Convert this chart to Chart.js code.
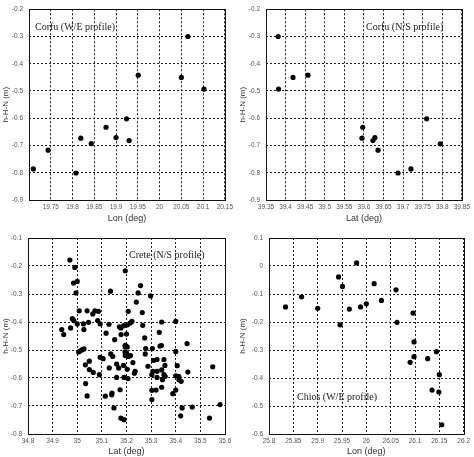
<!DOCTYPE html>
<html><head><meta charset="utf-8">
<script src="https://cdn.jsdelivr.net/npm/chart.js@4"></script>
<style>
html,body{margin:0;padding:0;background:#fff}
body{width:474px;height:457px;position:relative;overflow:hidden}
canvas{position:absolute;display:block}
</style></head><body>
<canvas id="c1" width="237" height="228" style="left:0;top:0"></canvas>
<canvas id="c2" width="237" height="228" style="left:237px;top:0"></canvas>
<canvas id="c3" width="237" height="229" style="left:0;top:228px"></canvas>
<canvas id="c4" width="237" height="229" style="left:237px;top:228px"></canvas>
<script>
// ---------- DATA ----------
const corfuLon  = [19.710,19.744,19.808,19.819,19.843,19.877,19.900,19.924,19.930,19.951,20.050,20.065,20.102];
const corfuLonH = [-0.786,-0.717,-0.801,-0.673,-0.693,-0.633,-0.671,-0.602,-0.682,-0.442,-0.450,-0.300,-0.493];

const corfuLat  = [39.381,39.382,39.419,39.457,39.597,39.595,39.623,39.628,39.636,39.687,39.720,39.760,39.795];
const corfuLatH = [-0.300,-0.493,-0.450,-0.442,-0.633,-0.673,-0.682,-0.671,-0.717,-0.801,-0.786,-0.602,-0.694];

const creteLat = [34.970,34.990,35.195,34.985,35.000,34.995,35.135,35.257,35.247,35.298,
                  35.240,35.207,35.008,35.040,35.072,35.086,35.063,35.264,34.980,34.986,
                  35.025,35.000,35.046,35.083,35.093,34.973,34.937,35.027,35.171,35.177,
                  35.129,35.204,35.189,35.215,35.222,35.266,35.343,35.400,35.333,35.178,
                  35.200,34.945,35.117,35.274,35.152,35.195,35.195,35.203,35.336,35.342,
                  35.446,35.305,35.278,35.194,35.200,35.400,35.006,35.013,35.020,35.027,
                  35.136,35.144,35.195,35.203,35.208,35.216,35.093,35.105,35.276,35.352,
                  35.324,35.310,35.287,35.356,35.406,35.550,35.033,35.049,35.160,35.188,
                  35.226,35.130,35.049,35.065,35.090,35.168,35.203,35.206,35.190,35.232,
                  35.235,35.303,35.307,35.324,35.343,35.352,35.357,35.324,35.346,35.400,
                  35.412,35.413,35.449,35.422,35.160,35.034,35.343,35.400,35.388,35.303,
                  35.320,35.141,35.174,35.040,35.114,35.140,35.303,35.149,35.426,35.467,
                  35.580,35.177,35.190,35.420,35.537];
const creteH   = [-0.179,-0.205,-0.217,-0.261,-0.255,-0.296,-0.290,-0.270,-0.296,-0.307,
                  -0.329,-0.362,-0.360,-0.360,-0.360,-0.362,-0.371,-0.366,-0.388,-0.395,
                  -0.407,-0.407,-0.401,-0.395,-0.407,-0.421,-0.427,-0.427,-0.417,-0.421,
                  -0.408,-0.410,-0.413,-0.404,-0.398,-0.412,-0.400,-0.398,-0.437,-0.445,
                  -0.443,-0.445,-0.440,-0.457,-0.463,-0.483,-0.488,-0.489,-0.486,-0.484,
                  -0.477,-0.495,-0.495,-0.507,-0.510,-0.505,-0.507,-0.503,-0.499,-0.496,
                  -0.514,-0.523,-0.520,-0.519,-0.523,-0.520,-0.526,-0.531,-0.514,-0.534,
                  -0.534,-0.537,-0.558,-0.555,-0.556,-0.560,-0.553,-0.540,-0.550,-0.555,
                  -0.545,-0.564,-0.570,-0.580,-0.588,-0.564,-0.569,-0.602,-0.598,-0.583,
                  -0.576,-0.588,-0.576,-0.576,-0.571,-0.588,-0.594,-0.598,-0.606,-0.592,
                  -0.594,-0.606,-0.579,-0.612,-0.598,-0.620,-0.633,-0.643,-0.656,-0.644,
                  -0.643,-0.654,-0.642,-0.664,-0.665,-0.660,-0.677,-0.707,-0.707,-0.704,
                  -0.695,-0.743,-0.749,-0.735,-0.743];

const chiosLon = [25.834,25.867,25.900,25.943,25.946,25.951,25.965,25.980,25.988,26.000,
                  26.016,26.031,26.061,26.063,26.096,26.098,26.098,26.090,26.126,26.144,
                  26.150,26.135,26.149,26.155];
const chiosH   = [-0.146,-0.110,-0.151,-0.039,-0.210,-0.073,-0.154,0.011,-0.146,-0.135,
                  -0.063,-0.123,-0.085,-0.201,-0.168,-0.271,-0.324,-0.344,-0.331,-0.306,
                  -0.388,-0.443,-0.450,-0.567];

// ---------- TICKS ----------
const corfuLonTicks  = [19.70,19.75,19.80,19.85,19.90,19.95,20.00,20.05,20.10,20.15];
const corfuLonLabels = ['','19.75','19.8','19.85','19.9','19.95','20','20.05','20.1','20.15'];
const corfuLatTicks  = [39.35,39.40,39.45,39.50,39.55,39.60,39.65,39.70,39.75,39.80,39.85];
const corfuLatLabels = ['39.35','39.4','39.45','39.5','39.55','39.6','39.65','39.7','39.75','39.8','39.85'];
const corfuHTicks    = [-0.9,-0.8,-0.7,-0.6,-0.5,-0.4,-0.3,-0.2];
const corfuHLabels   = ['-0.9','-0.8','-0.7','-0.6','-0.5','-0.4','-0.3','-0.2'];
const creteLatTicks  = [34.8,34.9,35.0,35.1,35.2,35.3,35.4,35.5,35.6];
const creteLatLabels = ['34.8','34.9','35','35.1','35.2','35.3','35.4','35.5','35.6'];
const creteHTicks    = [-0.8,-0.7,-0.6,-0.5,-0.4,-0.3,-0.2,-0.1];
const creteHLabels   = ['-0.8','-0.7','-0.6','-0.5','-0.4','-0.3','-0.2','-0.1'];
const chiosLonTicks  = [25.80,25.85,25.90,25.95,26.00,26.05,26.10,26.15,26.20];
const chiosLonLabels = ['25.8','25.85','25.9','25.95','26','26.05','26.1','26.15','26.2'];
const chiosHTicks    = [-0.6,-0.5,-0.4,-0.3,-0.2,-0.1,0,0.1];
const chiosHLabels   = ['-0.6','-0.5','-0.4','-0.3','-0.2','-0.1','0','0.1'];

// ---------- DRAWING ----------
const SANS = '"Liberation Sans", Arial, sans-serif';
const SERIF = '"Liberation Serif", "Times New Roman", serif';

const boxPlugin = {
  id:'box',
  afterDraw(chart){
    const a = chart.chartArea, ctx = chart.ctx;
    ctx.save();
    ctx.strokeStyle = '#111';
    ctx.lineWidth = 1;
    ctx.strokeRect(Math.round(a.left)+0.5, Math.round(a.top)+0.5, Math.round(a.right-a.left), Math.round(a.bottom-a.top));
    const o = chart.options.plugins.panelLabel;
    ctx.fillStyle = '#222';
    ctx.font = '10px ' + SERIF;
    ctx.textBaseline = 'middle';
    ctx.textAlign = 'left';
    ctx.fillText(o.text, a.left + o.dx, a.top + o.dy);
    ctx.restore();
  }
};

function panel(id, g){
  const pts = g.xs.map((x,i)=>({x:x, y:g.ys[i]}));
  const tickFont = {family:SANS, size:6.5, lineHeight:1};
  return new Chart(document.getElementById(id), {
    type:'scatter',
    data:{datasets:[{data:pts, pointRadius:2.6, pointHoverRadius:2.6,
      backgroundColor:'#000', borderColor:'#000', borderWidth:0}]},
    options:{
      responsive:false, animation:false, devicePixelRatio:1,
      layout:{padding:{left:0, top:g.top, right:g.right, bottom:0}},
      plugins:{legend:{display:false}, tooltip:{enabled:false},
        panelLabel:{text:g.label, dx:g.ldx, dy:g.ldy}},
      scales:{
        x:{type:'linear', position:'bottom', min:g.xTicks[0], max:g.xTicks[g.xTicks.length-1],
          afterBuildTicks:s=>{ s.ticks = g.xTicks.map(v=>({value:v})); },
          afterFit:s=>{ s.height = g.xh; },
          ticks:{autoSkip:false, maxRotation:0, minRotation:0, padding:4, font:tickFont, color:'#555',
            callback:(v,i)=>g.xLabels[i]},
          grid:{color:'#222', lineWidth:1, drawTicks:false},
          border:{display:false, dash:[2,2]},
          title:{display:true, text:g.xTitle, color:'#333',
            font:{family:SANS, size:9, lineHeight:1}, padding:{top:0, bottom:g.xtb}}
        },
        y:{type:'linear', position:'left', min:g.yTicks[0], max:g.yTicks[g.yTicks.length-1],
          afterBuildTicks:s=>{ s.ticks = g.yTicks.map(v=>({value:v})); },
          afterFit:s=>{ s.width = g.yw; },
          ticks:{autoSkip:false, padding:6, font:tickFont, color:'#555',
            callback:(v,i)=>g.yLabels[i]},
          grid:{color:'#222', lineWidth:1, drawTicks:false},
          border:{display:false, dash:[2,2]},
          title:{display:true, text:'h-H-N (m)', color:'#333',
            font:{family:SANS, size:8, lineHeight:1}, padding:{top:2, bottom:0}}
        }
      }
    },
    plugins:[boxPlugin]
  });
}

panel('c1', {xs:corfuLon, ys:corfuLonH, xTicks:corfuLonTicks, xLabels:corfuLonLabels,
  yTicks:corfuHTicks, yLabels:corfuHLabels, xTitle:'Lon (deg)',
  top:4, right:11, yw:29, xh:28, xtb:5, label:'Corfu (W/E profile)', ldx:6, ldy:18});
panel('c2', {xs:corfuLat, ys:corfuLatH, xTicks:corfuLatTicks, xLabels:corfuLatLabels,
  yTicks:corfuHTicks, yLabels:corfuHLabels, xTitle:'Lat (deg)',
  top:4, right:11, yw:29, xh:28, xtb:5, label:'Corfu (N/S profile)', ldx:100, ldy:18});
panel('c3', {xs:creteLat, ys:creteH, xTicks:creteLatTicks, xLabels:creteLatLabels,
  yTicks:creteHTicks, yLabels:creteHLabels, xTitle:'Lat (deg)',
  top:10, right:12, yw:28, xh:23, xtb:1, label:'Crete (N/S profile)', ldx:101, ldy:17});
panel('c4', {xs:chiosLon, ys:chiosH, xTicks:chiosLonTicks, xLabels:chiosLonLabels,
  yTicks:chiosHTicks, yLabels:chiosHLabels, xTitle:'Lon (deg)',
  top:10, right:8, yw:32, xh:23, xtb:1, label:'Chios (W/E profile)', ldx:28, ldy:159});
</script>
</body></html>
